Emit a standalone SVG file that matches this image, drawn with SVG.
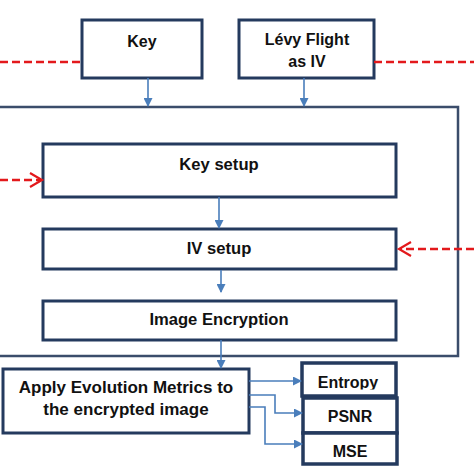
<svg xmlns="http://www.w3.org/2000/svg" width="474" height="474" viewBox="0 0 474 474">
<style>
.box{fill:#fff;stroke:#243a5e;stroke-width:3}
.mbox{fill:#fff;stroke:#243a5e;stroke-width:3.5}
.lbl{font-family:"Liberation Sans",Arial,sans-serif;font-weight:bold;font-size:16px;fill:#111;text-anchor:middle}
.big{font-size:16.6px}
.apply{font-size:17px}
.blue{fill:none;stroke:#4a7ebb;stroke-width:1.6}
.red{fill:none;stroke:#e3191c;stroke-width:2.4;stroke-dasharray:8 4}
.redhead{fill:none;stroke:#e3191c;stroke-width:2.2}
</style>
<defs>
<marker id="ah" markerWidth="9" markerHeight="9" refX="8" refY="4.5" orient="auto" markerUnits="userSpaceOnUse">
<path d="M0,0 L9,4.5 L0,9 Z" fill="#4a7ebb"/>
</marker>
<clipPath id="entclip"><rect x="300" y="360" width="100" height="29.5"/></clipPath>
</defs>
<rect width="474" height="474" fill="#fff"/>
<g id="container">
<rect x="-10" y="107" width="468" height="249" fill="none" stroke="#3b4d6b" stroke-width="2.5"/>
</g>
<g id="key"><rect class="box" x="82" y="20" width="120" height="58"/><text class="lbl" x="142" y="47">Key</text></g>
<g id="levy"><rect class="box" x="239" y="20" width="135" height="58"/><text class="lbl" x="307" y="45">Lévy Flight</text><text class="lbl" x="307" y="67">as IV</text></g>
<g id="keysetup"><rect class="box" x="43" y="144" width="353" height="53"/><text class="lbl big" x="219" y="170">Key setup</text></g>
<g id="ivsetup"><rect class="box" x="43" y="229" width="353" height="40"/><text class="lbl big" x="219" y="254">IV setup</text></g>
<g id="imgenc"><rect class="box" x="43" y="301" width="353" height="39"/><text class="lbl big" x="219" y="325">Image Encryption</text></g>
<g id="apply"><rect class="box" x="3" y="369" width="246" height="64"/><text class="lbl apply" x="126" y="393">Apply Evolution Metrics to</text><text class="lbl apply" x="126" y="415">the encrypted image</text></g>
<g id="entropy"><rect class="mbox" x="302" y="363" width="94" height="33"/><text class="lbl" x="348" y="388" clip-path="url(#entclip)">Entropy</text></g>
<g id="psnr"><rect class="mbox" x="303" y="398" width="94" height="35"/><text class="lbl" x="350" y="422">PSNR</text></g>
<g id="mse"><rect class="mbox" x="303" y="433" width="94" height="31"/><text class="lbl" x="350" y="457">MSE</text></g>
<g id="connectors">
<path class="blue" d="M148,78 V106" marker-end="url(#ah)"/>
<path class="blue" d="M304,78 V106" marker-end="url(#ah)"/>
<path class="blue" d="M219,197 V228" marker-end="url(#ah)"/>
<path class="blue" d="M221,270 V292" marker-end="url(#ah)"/>
<path class="blue" d="M221,340 V368" marker-end="url(#ah)"/>
<path class="blue" d="M249,381 H301" marker-end="url(#ah)"/>
<path class="blue" d="M249,395 H275 V413 H302" marker-end="url(#ah)"/>
<path class="blue" d="M249,407 H265 V444 H302" marker-end="url(#ah)"/>
<path class="red" d="M0,62 H82"/>
<path class="red" d="M374,62 H474"/>
<path class="red" d="M0,180 H40"/>
<path class="redhead" d="M30,173 L42,180 L30,187"/>
<path class="red" d="M474,249 H400"/>
<path class="redhead" d="M411,242 L399,249 L411,256"/>
</g>
</svg>
